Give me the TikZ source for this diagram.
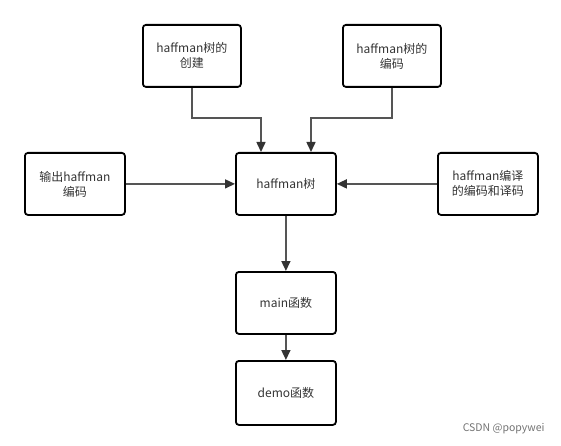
\documentclass[tikz,border=0pt]{standalone}
\usepackage{fontspec}
\setmainfont{Noto Sans CJK SC}
\usetikzlibrary{arrows.meta}
\definecolor{txt}{HTML}{333333}
\definecolor{ln}{HTML}{555555}
\begin{document}
\begin{tikzpicture}[x=1pt,y=-1pt,
  box/.style={draw=black,line width=1.8pt,rounded corners=3pt,minimum width=98pt,minimum height=62pt,
    align=center,font=\fontsize{12}{15}\selectfont,text=txt,anchor=north west,inner sep=0pt},
  conn/.style={draw=ln,line width=1.5pt,-{Triangle[length=10pt,width=9pt,color=black!80]}}]
\useasboundingbox (0,0) rectangle (561,446);
\node[box] (create) at (142,24) {haffman树的\\创建};
\node[box] (encode) at (342,24) {haffman树的\\编码};
\node[box,minimum width=100pt] (out) at (24,152) {输出haffman\\编码};
\node[box,minimum width=100pt] (tree) at (235,152) {haffman树};
\node[box,minimum width=100pt] (dec) at (437,152) {haffman编译\\的编码和译码};
\node[box,minimum width=100pt] (main) at (235,271) {main函数};
\node[box,minimum width=100pt,minimum height=64pt] (demo) at (235,360) {demo函数};
\coordinate (ta) at (261,152);
\coordinate (tb) at (311,152);
\draw[conn] (create.south) |- (261,118) -- (ta);
\draw[conn] (encode.south) |- (311,118) -- (tb);
\draw[conn] (out.east) -- (tree.west);
\draw[conn] (dec.west) -- (tree.east);
\draw[conn] (tree.south) -- (main.north);
\draw[conn] (main.south) -- (demo.north);
\node[font=\fontsize{10.5}{12}\selectfont,text=black!55,anchor=east] (wm) at (548,429) {CSDN @popywei};
\end{tikzpicture}
\end{document}
